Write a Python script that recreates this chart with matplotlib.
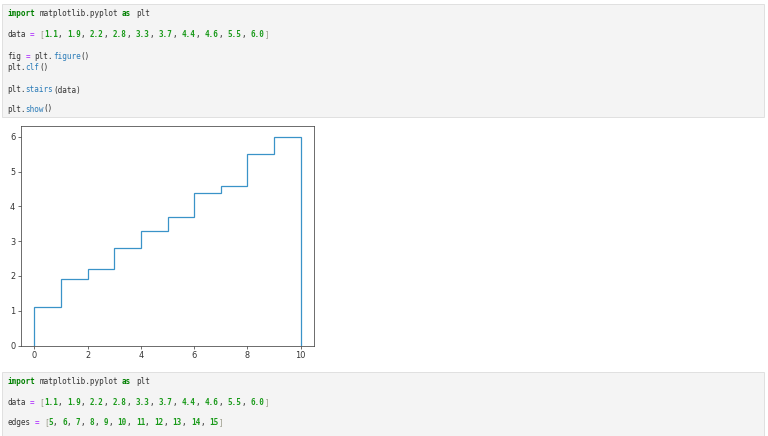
import matplotlib.pyplot as plt
from matplotlib.patches import Rectangle

# --- values shown in the notebook ---
data = [1.1, 1.9, 2.2, 2.8, 3.3, 3.7, 4.4, 4.6, 5.5, 6.0]
edges = [5, 6, 7, 8, 9, 10, 11, 12, 13, 14, 15]

W, H = 768, 436
fig = plt.figure(figsize=(W / 100, H / 100), dpi=100)
fig.patch.set_facecolor('white')

KW = '#008000'    # keyword
NUM = '#1a9a1a'   # number
OP = '#aa22ff'    # operator
FN = '#2a7bb8'    # function / property
BR = '#999988'    # bracket
TXT = '#333333'   # plain text
FS = 5.5
CW = 0.602 * FS * 100 / 72   # DejaVu Sans Mono advance in px


def cell_box(top, bottom):
    fig.patches.append(Rectangle((2 / W, 1 - bottom / H), (764 - 2) / W, (bottom - top) / H,
                                 transform=fig.transFigure, facecolor='#f4f4f4',
                                 edgecolor='#e0e0e0', linewidth=0.7))


def code_line(y, parts, x0=7):
    col = 0
    for s, c, bold in parts:
        lead = len(s) - len(s.lstrip())
        body = s.strip()
        if body:
            fig.text((x0 + (col + lead) * CW) / W, 1 - y / H, body, color=c, fontsize=FS,
                     family='DejaVu Sans Mono', fontweight='bold' if bold else 'normal',
                     va='center', ha='left')
        col += len(s)


def list_parts(vals, fmt):
    parts = [('[', BR, False)]
    for i, v in enumerate(vals):
        parts.append((fmt(v), NUM, True))
        if i < len(vals) - 1:
            parts.append((', ', TXT, False))
    parts.append((']', BR, False))
    return parts


import_line = [('import', KW, True), (' matplotlib.pyplot ', TXT, False),
               ('as', KW, True), (' plt', TXT, False)]

# --- first cell ---
cell_box(4, 117)
code_line(13.5, import_line)
code_line(34.5, [('data ', TXT, False), ('=', OP, False), (' ', TXT, False)]
          + list_parts(data, lambda v: f'{v:.1f}'))
code_line(56.5, [('fig ', TXT, False), ('=', OP, False), (' plt.', TXT, False),
                 ('figure', FN, False), ('()', TXT, False)])
code_line(67.5, [('plt.', TXT, False), ('clf', FN, False), ('()', TXT, False)])
code_line(90, [('plt.', TXT, False), ('stairs', FN, False), ('(data)', TXT, False)])
code_line(109, [('plt.', TXT, False), ('show', FN, False), ('()', TXT, False)])

# --- output plot ---
ax = fig.add_axes([21 / W, 1 - 345.5 / H, (314 - 21) / W, (345.5 - 126.5) / H])
ax.stairs(data, linewidth=0.9, color='#3a93c8')
for sp in ax.spines.values():
    sp.set_linewidth(0.55)
    sp.set_color('#444444')
ax.tick_params(labelsize=5.9, length=2.1, width=0.5, pad=2.1, colors='#333333')

# --- second cell ---
cell_box(372, 440)
code_line(381.5, import_line)
code_line(402.5, [('data ', TXT, False), ('=', OP, False), (' ', TXT, False)]
          + list_parts(data, lambda v: f'{v:.1f}'))
code_line(422.5, [('edges ', TXT, False), ('=', OP, False), (' ', TXT, False)]
          + list_parts(edges, str))

fig.savefig('out.png', dpi=100)
